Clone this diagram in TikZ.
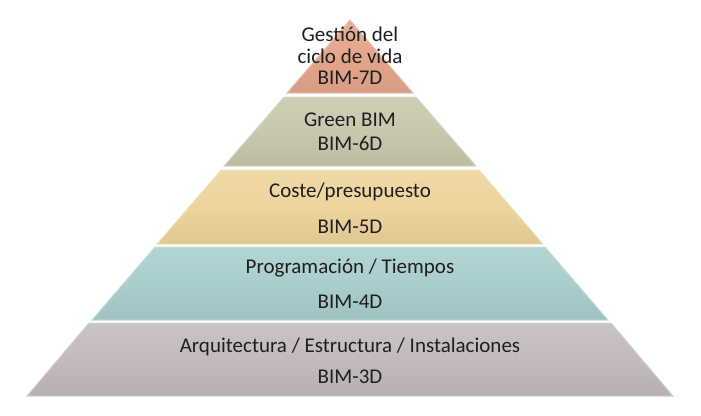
\documentclass[tikz,border=0pt]{standalone}
\usepackage{fontspec}
\setmainfont{Carlito}

\definecolor{c7d}{HTML}{E4A68A}
\definecolor{c6d}{HTML}{C7C8AE}
\definecolor{c5d}{HTML}{EDD49C}
\definecolor{c4d}{HTML}{A9CECE}
\definecolor{c3d}{HTML}{C2BABE}

\tikzset{
 layer/.style={draw=#1!70!white, line width=1pt, top color=#1!88!white, bottom color=#1!94!black, middle color=#1},
 level/.style={anchor=base, text=black!88, font=\fontsize{21}{25}\selectfont}
}

\begin{document}
\begin{tikzpicture}[x=1pt,y=-1pt]
 \useasboundingbox (0,0) rectangle (701,415);

 \path[layer=c7d] (350,20) -- (413,93) -- (287,93) -- cycle;
 \path[layer=c6d] (284,97) -- (416,97) -- (476,166) -- (224,166) -- cycle;
 \path[layer=c5d] (221,170) -- (479,170) -- (543,244) -- (157,244) -- cycle;
 \path[layer=c4d] (155,247) -- (545,247) -- (608,320) -- (92,320) -- cycle;
 \path[layer=c3d] (89,323) -- (611,323) -- (673,396) -- (27,396) -- cycle;

 \node[level] (g1) at (350,41) {Gestión del};
 \node[level] (g2) at (350,63) {ciclo de vida};
 \node[level] (g3) at (350,84) {BIM-7D};

 \node[level] (gb1) at (350,126) {Green BIM};
 \node[level] (gb2) at (350,150) {BIM-6D};

 \node[level] (cp1) at (350,197) {Coste/presupuesto};
 \node[level] (cp2) at (350,233) {BIM-5D};

 \node[level] (pt1) at (350,273) {Programación / Tiempos};
 \node[level] (pt2) at (350,308) {BIM-4D};

 \node[level] (ae1) at (350,352) {Arquitectura / Estructura / Instalaciones};
 \node[level] (ae2) at (350,383) {BIM-3D};
\end{tikzpicture}
\end{document}
